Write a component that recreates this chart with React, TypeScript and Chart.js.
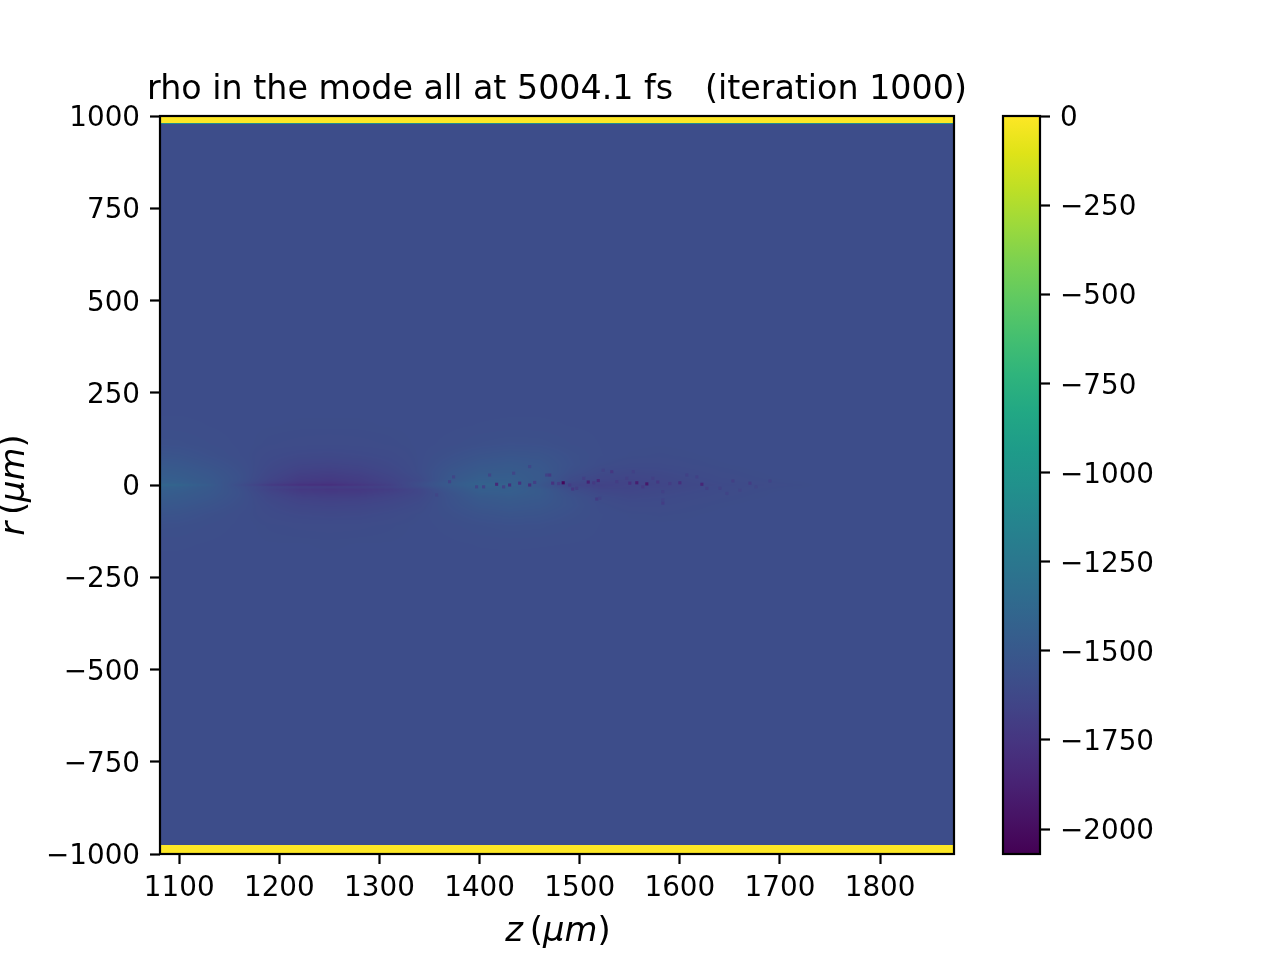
import React, { useEffect, useRef } from "react";
import { Chart, registerables } from "chart.js";
Chart.register(...registerables);

const titleText = "rho in the mode all at 5004.1 fs   (iteration 1000)";
const FONT = '"DejaVu Sans"';
const xTickValues = [1100, 1200, 1300, 1400, 1500, 1600, 1700, 1800];
const yTickValues = [-1000, -750, -500, -250, 0, 250, 500, 750, 1000];
const cbTickValues = [-2000, -1750, -1500, -1250, -1000, -750, -500, -250, 0];
const zRange = [1080.8, 1873.8];
const rRange = [-1000, 1000];
const rhoRange = [-2070, 0];

const viridisStops = ["#440154","#471365","#482475","#463480","#414487","#3b528b","#355f8d","#2f6c8e","#2a788e","#25848e","#21918c","#1e9c89","#22a884","#2fb47c","#44bf70","#5ec962","#7ad151","#9bd93c","#bddf26","#dfe318","#fde725"];

// conducting wall strips at top and bottom: [r from, r to, rho]
const wallFrom = [1000, 982, -974.5, -976];
const wallTo = [982, 979.5, -976, -1000];
const wallRho = [0, -1050, -1050, 0];

const zSamples = [1080,1100,1130,1160,1190,1220,1250,1280,1310,1340,1370,1400,1430,1460,1490,1520,1550,1580,1610,1640,1670,1700,1740,1874];
const rSamples = [220,160,110,80,55,35,22,12,5,0,-5,-12,-22,-35,-55,-80,-110,-160,-220];

const rhoR220 = [-1590,-1590,-1590,-1590,-1590,-1590,-1590,-1590,-1590,-1590,-1590,-1590,-1590,-1590,-1590,-1590,-1590,-1590,-1590,-1590,-1590,-1590,-1590,-1590];
const rhoR160 = [-1582,-1582,-1586,-1590,-1591,-1592,-1592,-1592,-1591,-1590,-1588,-1585,-1583,-1583,-1586,-1588,-1590,-1590,-1590,-1590,-1590,-1590,-1590,-1590];
const rhoR110 = [-1565,-1568,-1578,-1588,-1595,-1598,-1600,-1598,-1595,-1590,-1582,-1570,-1562,-1565,-1578,-1586,-1590,-1591,-1590,-1590,-1590,-1590,-1590,-1590];
const rhoR80 = [-1535,-1540,-1565,-1585,-1605,-1618,-1622,-1615,-1605,-1590,-1565,-1540,-1528,-1535,-1565,-1585,-1592,-1594,-1592,-1590,-1590,-1590,-1590,-1590];
const rhoR55 = [-1500,-1510,-1540,-1575,-1615,-1645,-1652,-1642,-1618,-1590,-1545,-1510,-1498,-1515,-1560,-1592,-1602,-1602,-1596,-1592,-1590,-1590,-1590,-1590];
const rhoR35 = [-1475,-1485,-1518,-1565,-1628,-1672,-1685,-1668,-1635,-1590,-1525,-1485,-1478,-1500,-1570,-1612,-1625,-1618,-1605,-1596,-1592,-1590,-1590,-1590];
const rhoR22 = [-1460,-1472,-1508,-1560,-1640,-1695,-1708,-1690,-1650,-1600,-1515,-1465,-1465,-1500,-1590,-1630,-1640,-1630,-1612,-1600,-1594,-1590,-1590,-1590];
const rhoR12 = [-1445,-1460,-1498,-1562,-1652,-1710,-1725,-1700,-1660,-1610,-1505,-1450,-1455,-1500,-1600,-1640,-1650,-1635,-1620,-1605,-1596,-1592,-1590,-1590];
const rhoR5 = [-1430,-1445,-1495,-1572,-1672,-1735,-1752,-1715,-1670,-1590,-1490,-1430,-1450,-1510,-1625,-1655,-1660,-1640,-1625,-1610,-1600,-1594,-1590,-1590];
const rhoR0 = [-1385,-1405,-1475,-1590,-1720,-1785,-1800,-1750,-1690,-1585,-1490,-1420,-1420,-1520,-1640,-1670,-1650,-1645,-1630,-1615,-1605,-1598,-1590,-1590];
const rhoRm5 = [-1430,-1445,-1495,-1572,-1650,-1690,-1700,-1690,-1665,-1600,-1505,-1435,-1450,-1510,-1620,-1660,-1645,-1640,-1622,-1608,-1600,-1594,-1590,-1590];
const rhoRm12 = [-1445,-1460,-1500,-1565,-1665,-1725,-1740,-1730,-1700,-1635,-1525,-1450,-1450,-1490,-1590,-1640,-1645,-1630,-1618,-1605,-1596,-1592,-1590,-1590];
const rhoRm22 = [-1460,-1475,-1508,-1562,-1645,-1700,-1715,-1710,-1675,-1635,-1545,-1470,-1460,-1490,-1570,-1622,-1635,-1622,-1610,-1600,-1594,-1590,-1590,-1590];
const rhoRm35 = [-1478,-1490,-1520,-1566,-1628,-1668,-1680,-1675,-1652,-1620,-1555,-1495,-1482,-1500,-1555,-1600,-1618,-1612,-1603,-1596,-1592,-1590,-1590,-1590];
const rhoRm55 = [-1505,-1515,-1542,-1576,-1612,-1642,-1650,-1645,-1628,-1605,-1560,-1518,-1505,-1518,-1552,-1590,-1602,-1602,-1596,-1592,-1590,-1590,-1590,-1590];
const rhoRm80 = [-1540,-1545,-1568,-1586,-1602,-1615,-1620,-1618,-1605,-1592,-1572,-1548,-1535,-1542,-1565,-1585,-1592,-1594,-1592,-1590,-1590,-1590,-1590,-1590];
const rhoRm110 = [-1568,-1570,-1580,-1588,-1594,-1597,-1598,-1597,-1594,-1590,-1582,-1572,-1565,-1568,-1578,-1586,-1590,-1590,-1590,-1590,-1590,-1590,-1590,-1590];
const rhoRm160 = [-1584,-1584,-1587,-1590,-1591,-1591,-1592,-1591,-1591,-1590,-1588,-1585,-1584,-1585,-1586,-1588,-1590,-1590,-1590,-1590,-1590,-1590,-1590,-1590];
const rhoRm220 = [-1590,-1590,-1590,-1590,-1590,-1590,-1590,-1590,-1590,-1590,-1590,-1590,-1590,-1590,-1590,-1590,-1590,-1590,-1590,-1590,-1590,-1590,-1590,-1590];
const rhoRows = [rhoR220,rhoR160,rhoR110,rhoR80,rhoR55,rhoR35,rhoR22,rhoR12,rhoR5,rhoR0,rhoRm5,rhoRm12,rhoRm22,rhoRm35,rhoRm55,rhoRm80,rhoRm110,rhoRm160,rhoRm220];
const rhoOutside = -1590;

// isolated dark macro-particle speckles
const speckleZ = [1417,1430,1440,1450,1470,1473,1483.5,1493,1508.5,1517,1518.5,1532,1550,1557,1567,1578,1583,1600,1622,1653,1670,1690,1397,1404,1424,1455,1467,1479,1490,1497,1504,1514,1523.5,1537,1547,1553.5,1563,1573,1583,1590,1607,1617,1627,1640,1647,1583,1520,1450,1434,1410,1374,1357,1370,1660,1676];
const speckleR = [2,0,5,0,27,5,6,-11,8,-38,12,36,5,6,3,8,-49,6,2,11,5,11,-5,-5,-5,7,27,4,0,-9,18,6,40,9,18,36,-5,18,-18,4,27,22,-9,-9,-23,-41,-36,50,32,27,22,-27,9,-14,-5];
const speckleRho = [-1830,-1780,-1760,-1790,-1720,-1760,-2030,-1740,-1880,-1710,-1830,-1740,-1780,-1900,-1930,-1740,-1700,-1790,-1850,-1680,-1700,-1650,-1640,-1650,-1660,-1680,-1670,-1700,-1700,-1690,-1680,-1720,-1660,-1700,-1680,-1670,-1720,-1680,-1670,-1700,-1670,-1670,-1680,-1660,-1650,-1650,-1650,-1630,-1640,-1640,-1640,-1640,-1650,-1640,-1640];

const colorbarLabel = ["rho"];

function hexRgb(h: string) {
  return [parseInt(h.slice(1, 3), 16), parseInt(h.slice(3, 5), 16), parseInt(h.slice(5, 7), 16)];
}
const stopRgb = viridisStops.map(hexRgb);
function rhoRgb(v: number) {
  let t = (v - rhoRange[0]) / (rhoRange[1] - rhoRange[0]);
  t = Math.max(0, Math.min(1, t)) * (stopRgb.length - 1);
  const i = Math.min(stopRgb.length - 2, Math.floor(t));
  const f = t - i;
  return [0, 1, 2].map((k) => stopRgb[i][k] + (stopRgb[i + 1][k] - stopRgb[i][k]) * f);
}
function rhoCss(v: number) {
  const c = rhoRgb(v);
  return `rgb(${c[0] | 0},${c[1] | 0},${c[2] | 0})`;
}
function locate(arr: number[], v: number) {
  const asc = arr[1] > arr[0];
  for (let i = 0; i < arr.length - 1; i++) {
    const a = arr[i], b = arr[i + 1];
    if (asc ? v >= a && v <= b : v <= a && v >= b) return [i, (v - a) / (b - a)];
  }
  return null;
}
function sampleRho(z: number, r: number) {
  for (let i = 0; i < wallRho.length; i++) {
    if (r <= wallFrom[i] && r >= wallTo[i]) return wallRho[i];
  }
  const a = locate(zSamples, z);
  const b = locate(rSamples, r);
  if (!a || !b) return rhoOutside;
  const [i, fx] = a, [j, fy] = b;
  const top = rhoRows[j][i] * (1 - fx) + rhoRows[j][i + 1] * fx;
  const bot = rhoRows[j + 1][i] * (1 - fx) + rhoRows[j + 1][i + 1] * fx;
  return top * (1 - fy) + bot * fy;
}

const heatPlugin = {
  id: "heat",
  beforeDatasetsDraw(chart: any) {
    const { ctx, chartArea: a, scales } = chart;
    const w = Math.round(a.right - a.left), h = Math.round(a.bottom - a.top);
    const off = document.createElement("canvas");
    off.width = w; off.height = h;
    const octx = off.getContext("2d")!;
    const img = octx.createImageData(w, h);
    for (let y = 0; y < h; y++) {
      const r = scales.y.getValueForPixel(a.top + y + 0.5);
      for (let x = 0; x < w; x++) {
        const z = scales.x.getValueForPixel(a.left + x + 0.5);
        const c = rhoRgb(sampleRho(z, r));
        const o = (y * w + x) * 4;
        img.data[o] = c[0]; img.data[o + 1] = c[1]; img.data[o + 2] = c[2]; img.data[o + 3] = 255;
      }
    }
    octx.putImageData(img, 0, 0);
    ctx.drawImage(off, a.left, a.top);
  },
};

const spinePlugin = {
  id: "spines",
  afterDraw(chart: any) {
    const { ctx, chartArea: a } = chart;
    ctx.save();
    ctx.strokeStyle = "#000";
    ctx.lineWidth = 2.2;
    ctx.strokeRect(a.left, a.top, a.right - a.left, a.bottom - a.top);
    ctx.restore();
  },
};

type Seg = [string, boolean];
const xLabelSegs: Seg[] = [["z", true], ["\u2009(", false], ["\u03bcm", true], [")", false]];
const yLabelSegs: Seg[] = [["r", true], ["\u2009(", false], ["\u03bcm", true], [")", false]];
function drawSegs(ctx: CanvasRenderingContext2D, segs: Seg[], size: number) {
  const fontOf = (it: boolean) => `${it ? "italic " : ""}${size}px ${FONT}`;
  let total = 0;
  for (const [t, it] of segs) { ctx.font = fontOf(it); total += ctx.measureText(t).width; }
  let x = -total / 2;
  ctx.textAlign = "left";
  ctx.textBaseline = "alphabetic";
  ctx.fillStyle = "#000";
  for (const [t, it] of segs) { ctx.font = fontOf(it); ctx.fillText(t, x, 0); x += ctx.measureText(t).width; }
}
const axisLabelPlugin = {
  id: "axisLabels",
  afterDraw(chart: any) {
    const { ctx, chartArea: a } = chart;
    ctx.save();
    ctx.fillStyle = "#000";
    ctx.font = `33.3px ${FONT}`;
    ctx.textAlign = "center";
    ctx.textBaseline = "alphabetic";
    ctx.fillText(titleText, (a.left + a.right) / 2, 99);
    ctx.restore();
    ctx.save();
    ctx.translate((a.left + a.right) / 2 + 1, 941);
    drawSegs(ctx, xLabelSegs, 33.8);
    ctx.restore();
    ctx.save();
    ctx.translate(24, (a.top + a.bottom) / 2);
    ctx.rotate(-Math.PI / 2);
    drawSegs(ctx, yLabelSegs, 33.8);
    ctx.restore();
  },
};

const minus = (v: any) => String(v).replace("-", "\u2212");
const tickFont = { family: FONT, size: 27.8 };
const setTicks = (values: number[]) => (s: any) => { s.ticks = values.map((value) => ({ value })); };

export default function App() {
  const mainRef = useRef<HTMLCanvasElement>(null);
  const barRef = useRef<HTMLCanvasElement>(null);
  useEffect(() => {
    const main = new Chart(mainRef.current!, {
      type: "scatter",
      data: {
        datasets: [{
          label: "speckles",
          data: speckleZ.map((z, i) => ({ x: z, y: speckleR[i] })),
          pointStyle: "rect",
          pointRadius: 2.2,
          pointBorderWidth: 0,
          pointBackgroundColor: speckleRho.map(rhoCss),
        }],
      },
      options: {
        responsive: false,
        animation: false,
        devicePixelRatio: 1,
        layout: { padding: { left: 0, right: 326, top: 116, bottom: 0 } },
        plugins: {
          legend: { display: false },
          tooltip: { enabled: false },
          title: { display: false },
        },
        scales: {
          x: {
            type: "linear",
            min: zRange[0],
            max: zRange[1],
            afterBuildTicks: setTicks(xTickValues),
            afterFit: (s: any) => { s.height = 106; },
            grid: { drawOnChartArea: false, drawTicks: true, tickLength: 10, tickWidth: 2.2, tickColor: "#000" },
            border: { display: false },
            ticks: { autoSkip: false, maxRotation: 0, color: "#000", font: tickFont, padding: 8, callback: minus },
          },
          y: {
            type: "linear",
            min: rRange[0],
            max: rRange[1],
            afterBuildTicks: setTicks(yTickValues),
            afterFit: (s: any) => { s.width = 160; },
            grid: { drawOnChartArea: false, drawTicks: true, tickLength: 10, tickWidth: 2.2, tickColor: "#000" },
            border: { display: false },
            ticks: { autoSkip: false, color: "#000", font: tickFont, padding: 10, labelOffset: 3, callback: minus },
          },
        },
      },
      plugins: [heatPlugin, spinePlugin, axisLabelPlugin],
    } as any);

    const bar = new Chart(barRef.current!, {
      type: "bar",
      data: {
        labels: colorbarLabel,
        datasets: [{
          label: "rho",
          data: [rhoRange as any],
          barPercentage: 1,
          categoryPercentage: 1,
          borderWidth: 0,
          backgroundColor: (c: any) => {
            const a = c.chart.chartArea;
            if (!a) return "#3b528b";
            const g = c.chart.ctx.createLinearGradient(0, a.bottom, 0, a.top);
            viridisStops.forEach((s, i) => g.addColorStop(i / (viridisStops.length - 1), s));
            return g;
          },
        }],
      },
      options: {
        responsive: false,
        animation: false,
        devicePixelRatio: 1,
        layout: { padding: { left: 13, right: 0, top: 116, bottom: 106 } },
        plugins: { legend: { display: false }, tooltip: { enabled: false } },
        scales: {
          x: { display: false },
          y: {
            type: "linear",
            position: "right",
            min: rhoRange[0],
            max: rhoRange[1],
            afterBuildTicks: setTicks(cbTickValues),
            afterFit: (s: any) => { s.width = 240; },
            grid: { drawOnChartArea: false, drawTicks: true, tickLength: 10, tickWidth: 2.2, tickColor: "#000" },
            border: { display: false },
            ticks: { autoSkip: false, color: "#000", font: tickFont, padding: 10, labelOffset: 3, callback: minus },
          },
        },
      },
      plugins: [spinePlugin],
    } as any);
    return () => { main.destroy(); bar.destroy(); };
  }, []);
  return (
    <div style={{ position: "absolute", left: 0, top: 0, width: 1280, height: 960, background: "#fff", overflow: "hidden" }}>
      <canvas ref={mainRef} width={1280} height={960} style={{ position: "absolute", left: 0, top: 0 }} />
      <canvas ref={barRef} width={290} height={960} style={{ position: "absolute", left: 990, top: 0 }} />
    </div>
  );
}
